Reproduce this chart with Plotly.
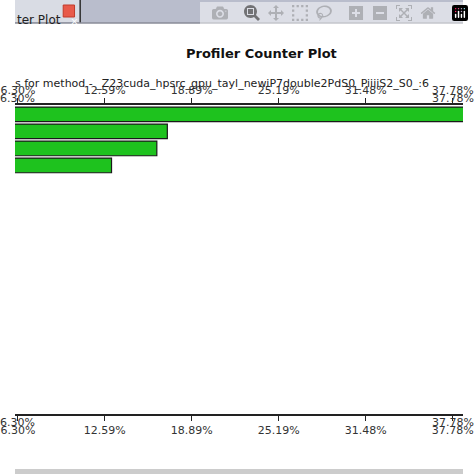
import plotly.graph_objects as go

counters = ["c1", "c2", "c3", "c4"]
percent = [40.5, 17.12, 16.36, 13.08]
tick_vals = [6.30, 12.59, 18.89, 25.19, 31.48, 37.78]
tick_text = ["6.30%", "12.59%", "18.89%", "25.19%", "31.48%", "37.78%"]

W = H = 474
y0, y1 = (H - 414) / H, (H - 105) / H
tfont = dict(family="DejaVu Sans", size=11, color="#333")

fig = go.Figure()
fig.add_trace(go.Bar(
    x=percent, y=list(range(len(counters))), orientation="h", width=0.86,
    marker=dict(color="#1ec21e", line=dict(color="#1a1a1a", width=1.2)),
    hoverinfo="x", showlegend=False,
))

axis_common = dict(
    range=[6.09, 38.53], tickvals=tick_vals, ticktext=tick_text,
    ticks="outside", ticklen=5, tickcolor="#222", showline=True,
    linecolor="#222", linewidth=1.5, showgrid=False, zeroline=False,
    tickfont=tfont, ticklabeloverflow="allow",
)
fig.update_layout(
    width=W, height=H, margin=dict(l=0, r=0, t=0, b=0),
    paper_bgcolor="white", plot_bgcolor="white",
    xaxis=dict(domain=[0, 1], **axis_common),
    xaxis2=dict(overlaying="x", side="top", matches="x", **axis_common),
    yaxis=dict(domain=[y0, y1], range=[17.6, -0.55], visible=False),
)
fig.add_trace(go.Scatter(x=[10], y=[0], xaxis="x2", mode="markers",
                         marker=dict(opacity=0), showlegend=False, hoverinfo="skip"))

# edge tick labels that plotly would hide
for v, t in [(tick_vals[0], tick_text[0]), (tick_vals[-1], tick_text[-1])]:
    for yy in [(H - 90) / H, (H - 431) / H]:
        fig.add_annotation(xref="x", yref="paper", x=v, y=yy, text=t,
                           showarrow=False, font=tfont)

# window chrome
fig.add_shape(type="rect", xref="paper", yref="paper", x0=0, x1=1,
              y0=(H - 23) / H, y1=1, fillcolor="#b9bdcc", line_width=0)
fig.add_shape(type="rect", xref="paper", yref="paper", x0=0, x1=68 / W,
              y0=(H - 22) / H, y1=1, fillcolor="#d9dce4", line_width=0)
fig.add_shape(type="line", xref="paper", yref="paper", x0=69 / W, x1=69 / W,
              y0=(H - 23) / H, y1=1, line=dict(color="#333", width=1.5))
fig.add_shape(type="line", xref="paper", yref="paper", x0=0, x1=1,
              y0=(H - 23) / H, y1=(H - 23) / H, line=dict(color="#8a8d99", width=1.5))
fig.add_shape(type="rect", xref="paper", yref="paper", x0=51 / W, x1=63 / W,
              y0=(H - 17) / H, y1=(H - 5) / H, fillcolor="#e85a4a",
              line=dict(color="#c03a2a", width=1))
fig.add_annotation(xref="paper", yref="paper", x=57 / W, y=(H - 11) / H,
                   text="×", showarrow=False, font=dict(color="white", size=12))
fig.add_annotation(xref="paper", yref="paper", x=0, y=(H - 11) / H, xanchor="left",
                   text="ter Plot", showarrow=False,
                   font=dict(family="DejaVu Sans", size=12, color="#222"))
fig.add_shape(type="rect", xref="paper", yref="paper", x0=0, x1=1,
              y0=0, y1=5 / H, fillcolor="#cccccc", line_width=0)

fig.add_annotation(xref="paper", yref="paper", x=0.55, y=(H - 44) / H,
                   text="<b>Profiler Counter Plot</b>", showarrow=False,
                   font=dict(family="DejaVu Sans", size=13, color="#111"))
fig.add_annotation(xref="paper", yref="paper", x=-0.005, y=(H - 75) / H, xanchor="left",
                   text="s for method - _Z23cuda_hpsrc_gpu_tayl_newiP7double2PdS0_PiiiiS2_S0_:6",
                   showarrow=False,
                   font=dict(family="DejaVu Sans", size=11, color="#222"))

fig.write_html("out.html", post_script="document.body.style.margin='0';")
